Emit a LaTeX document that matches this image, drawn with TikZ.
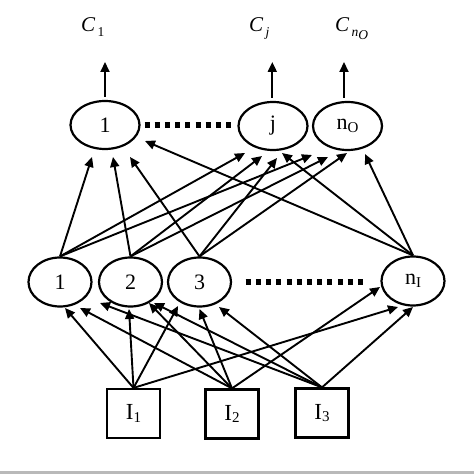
\documentclass[tikz,border=0pt]{standalone}
\usepackage{fontspec}
\setmainfont{Liberation Serif}
\usetikzlibrary{arrows.meta,shapes.geometric}
\newcommand{\ix}[1]{\raisebox{-2.5pt}{\fontsize{15}{15}\selectfont #1}}
\newcommand{\cx}[1]{\hspace{2.5pt}\raisebox{-4.5pt}{\fontsize{13.5}{13.5}\selectfont #1}}

\begin{document}
\begin{tikzpicture}[x=1pt,y=1pt,
  neuron/.style={draw,ellipse,line width=2.2pt,minimum width=63pt,minimum height=49pt,inner sep=0pt,font=\fontsize{22}{22}\selectfont},
  outneuron/.style={neuron,minimum width=69pt,minimum height=48pt},
  inbox/.style={draw,rectangle,line width=2.2pt,minimum width=53pt,minimum height=49pt,inner sep=0pt,font=\fontsize{23}{23}\selectfont},
  arr/.style={line width=1.9pt,-{Triangle[length=10pt,width=9pt]}},
  dotrow/.style={line width=5.5pt,dash pattern=on 5pt off 5.2pt},
  lbl/.style={anchor=base west,inner sep=0pt,font=\fontsize{21}{21}\selectfont\itshape}]
  \useasboundingbox (0,0) rectangle (474,474);
  \fill[gray!55] (0,0) rectangle (474,2.5);

  % output layer
  \node[outneuron] (O1) at (105,349) {1};
  \node[outneuron] (Oj) at (273,348) {j};
  \node[outneuron] (On) at (347.5,348) {n\ix{O}};

  \node[lbl] (C1) at (81,442) {C\cx{\upshape 1}};
  \node[lbl] (Cj) at (249,442) {C\cx{j}};
  \node[lbl] (Cn) at (335,442) {C\cx{n\raisebox{-3pt}{O}}};

  \coordinate (c1) at (105,412);
  \coordinate (cj) at (272.3,412);
  \coordinate (cn) at (344,412);
  \draw[arr,shorten <=3pt] (c1 |- O1.north) -- (c1);
  \draw[arr,shorten <=3pt] (cj |- Oj.north) -- (cj);
  \draw[arr,shorten <=3pt] (cn |- On.north) -- (cn);

  \draw[dotrow] (144.5,349) -- (232,349);

  % hidden layer
  \node[neuron] (H1) at (60,192) {1};
  \node[neuron] (H2) at (130.5,192) {2};
  \node[neuron] (H3) at (199.5,192) {3};
  \node[neuron] (Hn) at (413,193) {n\ix{I}};

  \draw[dotrow] (245.7,192) -- (363.3,192);

  % input layer
  \node[inbox] (I1) at (133.5,60.5) {I\ix{1}};
  \node[inbox] (I2) at (232,60) {I\ix{2}};
  \node[inbox] (I3) at (322,61) {I\ix{3}};

  % hidden -> output
  \draw[arr] (H1.north) -- ([shift={(-13,-32)}]O1.center);
  \draw[arr] (H2.north) -- ([shift={(8,-32)}]O1.center);
  \draw[arr] (H3.north) -- ([shift={(25,-32)}]O1.center);
  \draw[arr] (Hn.north) -- ([shift={(40,-16)}]O1.center);

  \draw[arr] (H1.north) -- ([shift={(-28,-27)}]Oj.center);
  \draw[arr] (H2.north) -- ([shift={(-11,-30)}]Oj.center);
  \draw[arr] (H3.north) -- ([shift={(4,-32)}]Oj.center);
  \draw[arr] (Hn.north) -- ([shift={(9,-27)}]Oj.center);

  \draw[arr] (H1.north) -- ([shift={(-35.5,-29)}]On.center);
  \draw[arr] (H2.north) -- ([shift={(-19.5,-31)}]On.center);
  \draw[arr] (H3.north) -- ([shift={(-0.5,-27)}]On.center);
  \draw[arr] (Hn.north) -- ([shift={(17.5,-28)}]On.center);

  % input -> hidden
  \draw[arr] (I1.north) -- ([shift={(5,-26)}]H1.center);
  \draw[arr] (I2.north) -- ([shift={(20,-26)}]H1.center);

  \draw[arr] (I3.north) -- ([shift={(-30.5,-21)}]H2.center);
  \draw[arr] (I1.north) -- ([shift={(-1.5,-27)}]H2.center);
  \draw[arr] (I2.north) -- ([shift={(18.5,-21)}]H2.center);
  \draw[arr] (I3.north) -- ([shift={(23.5,-21)}]H2.center);

  \draw[arr] (I1.north) -- ([shift={(-21.5,-24)}]H3.center);
  \draw[arr] (I2.north) -- ([shift={(0,-27)}]H3.center);
  \draw[arr] (I3.north) -- ([shift={(19.5,-25)}]H3.center);

  \draw[arr] (I2.north) -- ([shift={(-33,-6)}]Hn.center);
  \draw[arr] (I1.north) -- ([shift={(-15,-26)}]Hn.center);
  \draw[arr] (I3.north) -- ([shift={(0,-26)}]Hn.center);

\end{tikzpicture}
\end{document}
